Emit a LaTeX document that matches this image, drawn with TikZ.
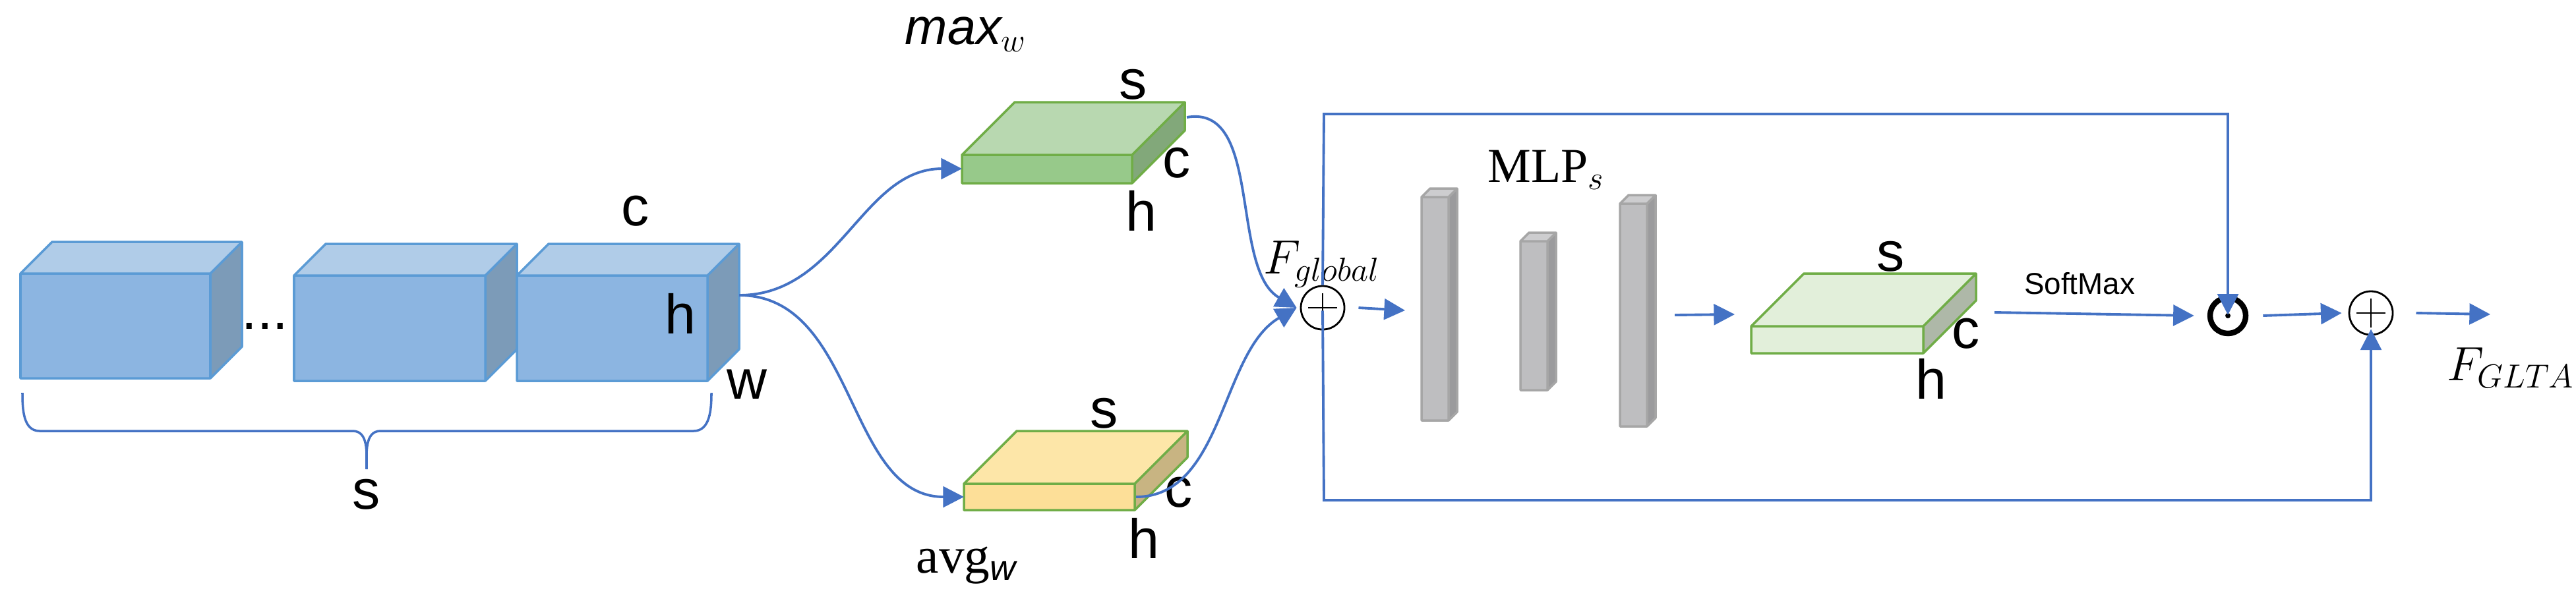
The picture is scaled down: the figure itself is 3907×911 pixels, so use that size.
\documentclass[tikz,border=0pt]{standalone}
\usepackage{fontspec}
\setmainfont{Liberation Sans}
\usetikzlibrary{arrows.meta}
\definecolor{lineblue}{HTML}{4472C4}
\definecolor{cubeedge}{HTML}{5B9BD5}
\definecolor{cubefront}{RGB}{140,181,225}
\definecolor{cubetop}{RGB}{176,204,232}
\definecolor{cubeside}{RGB}{124,155,184}
\definecolor{grnedge}{HTML}{70AD47}
\definecolor{grnfront}{RGB}{151,201,138}
\definecolor{grntop}{RGB}{184,216,176}
\definecolor{grnside}{RGB}{130,168,122}
\definecolor{ylwfront}{RGB}{253,223,152}
\definecolor{ylwtop}{RGB}{253,230,168}
\definecolor{ylwside}{RGB}{200,180,130}
\definecolor{attfront}{RGB}{226,239,218}
\definecolor{attside}{RGB}{174,184,168}
\definecolor{baredge}{HTML}{A6A6A6}
\definecolor{barfront}{RGB}{190,190,192}
\definecolor{bartop}{RGB}{205,205,207}
\definecolor{barside}{RGB}{155,155,157}
\newfontfamily\serifmath{Liberation Serif}
% box: x-left, y-top of front face, width, height, depth, front, top, side, edge colour
\newcommand{\blockbox}[9]{%
  \fill[#7] (#1,#2) -- ++(#5,-#5) -- ++(#3,0) -- ++(-#5,#5) -- cycle;
  \fill[#8] (#1+#3,#2) -- ++(#5,-#5) -- ++(0,#4) -- ++(-#5,#5) -- cycle;
  \fill[#6] (#1,#2) rectangle ++(#3,#4);
  \draw[#9,line width=1pt,line join=round] (#1,#2) -- ++(#5,-#5) -- ++(#3,0) -- ++(0,#4) -- ++(-#5,#5) -- ++(-#3,0) -- cycle
     (#1,#2) -- ++(#3,0) -- ++(#5,-#5) (#1+#3,#2) -- ++(0,#4);
}
\tikzset{
  conn/.style={draw=lineblue,line width=1.1pt},
  arr/.style={conn,-{Triangle[length=9pt,width=9pt]}},
  lbl/.style={font=\fontsize{24}{24}\selectfont,inner sep=0pt},
  mth/.style={font=\fontsize{22}{22}\selectfont,inner sep=0pt},
  opnode/.style={circle,draw,line width=0.8pt,minimum size=0.66cm,inner sep=0pt,
    path picture={\draw[line width=0.8pt] ([xshift=-0.22cm]path picture bounding box.center) -- ([xshift=0.22cm]path picture bounding box.center)
      ([yshift=-0.22cm]path picture bounding box.center) -- ([yshift=0.22cm]path picture bounding box.center);}},
}
\begin{document}
\begin{tikzpicture}[x=0.01cm,y=-0.01cm]
\useasboundingbox (0,0) rectangle (3907,911);
% input cubes
\blockbox{31}{415}{288}{159}{48}{cubefront}{cubetop}{cubeside}{cubeedge}
\blockbox{446}{418}{290}{160}{48}{cubefront}{cubetop}{cubeside}{cubeedge}
\blockbox{784}{418}{289}{160}{48}{cubefront}{cubetop}{cubeside}{cubeedge}
\node[lbl] (dots) at (402,495) {...};
\node[lbl] (lc) at (964,320) {c};
\node[lbl] (lh) at (1032,476) {h};
\node[lbl] (lw) at (1133,583) {w};
\draw[conn,line width=1pt] (34,596) to[out=-90,in=180] (60,654) -- (535,654) to[out=0,in=90] (556,712)
  (556,712) to[out=90,in=180] (577,654) -- (1052,654) to[out=0,in=-90] (1079,596);
\node[lbl] (ls) at (556,750) {s};
\coordinate (c3r) at (1121,448);
% pooled maps
\blockbox{1459}{235}{258}{43}{80}{grnfront}{grntop}{grnside}{grnedge}
\blockbox{1462}{734}{259}{40}{80}{ylwfront}{ylwtop}{ylwside}{grnedge}
\coordinate (gin) at (1459,256);
\coordinate (yin) at (1462,754);
\coordinate (gout) at (1800,178);
\coordinate (yout) at (1723,754);
\node[lbl] (gs) at (1719,128) {s};
\node[lbl] (gc) at (1785,247) {c};
\node[lbl] (gh) at (1731,320) {h};
\node[lbl] (ys) at (1675,627) {s};
\node[lbl] (yc) at (1788,747) {c};
\node[lbl] (yh) at (1735,817) {h};
\node[mth] (maxw) at (1465,52) {$\mathit{max}_w$};
\node[mth] (avgw) at (1466,858) {\serifmath avg$_{\mathit{w}}$};
\draw[arr] (c3r) to[out=0,in=180,looseness=1] (gin);
\draw[arr] (c3r) to[out=0,in=180,looseness=1] (yin);
% fusion
\node[opnode] (p1) at (2006,467) {};
\node[mth] (fg) at (2005,401) {$F_{global}$};
\draw[arr] (gout) to[out=10,in=150,looseness=0.9] ([xshift=-0.05cm]p1.west);
\draw[arr] (yout) to[out=0,in=210,looseness=0.9] ([xshift=-0.05cm]p1.west);
% MLP bars
\blockbox{2156}{299}{41}{339}{13}{barfront}{bartop}{barside}{baredge}
\blockbox{2306}{366}{41}{226}{13}{barfront}{bartop}{barside}{baredge}
\blockbox{2457}{309}{41}{338}{13}{barfront}{bartop}{barside}{baredge}
\node[mth,font=\fontsize{21}{21}\selectfont] (mlp) at (2345,258) {\serifmath MLP$_s$};
\coordinate (b1in) at (2131,471);
\coordinate (b3out) at (2540,478);
\draw[arr] ([xshift=0.2cm]p1.east) -- (b1in);
% attention map
\blockbox{2656}{495}{261}{41}{80}{attfront}{attfront}{attside}{grnedge}
\coordinate (ain) at (2631,477);
\coordinate (aout) at (3025,474);
\node[lbl] (as) at (2868,389) {s};
\node[lbl] (ac) at (2982,506) {c};
\node[lbl] (ah) at (2929,575) {h};
\draw[arr] (b3out) -- (ain);
\node[circle,draw,line width=2.4pt,minimum width=0.48cm,minimum height=0.54cm,inner sep=0pt] (dot) at (3379,479) {};
\fill (dot.center) circle (4);
\node[font=\fontsize{13}{13}\selectfont,inner sep=0pt] (smax) at (3154,430) {SoftMax};
\draw[arr] (aout) -- ([xshift=-0.2cm]dot.west);
\node[opnode] (p2) at (3596,475) {};
\draw[arr] ([xshift=0.22cm]dot.east) -- ([xshift=-0.1cm]p2.west);
\coordinate (outend) at (3777,477);
\draw[arr] ([xshift=0.34cm]p2.east) -- (outend);
\node[mth] (fglta) at (3808,558) {$F_{GLTA}$};
% skip connections
\draw[arr] (p1.north) -- (2008,173) -| ([yshift=-0.3cm]dot.north);
\draw[arr] ([yshift=0.3cm]p1.south) -- (2008,759) -| ([yshift=0.1cm]p2.south);
\end{tikzpicture}
\end{document}
